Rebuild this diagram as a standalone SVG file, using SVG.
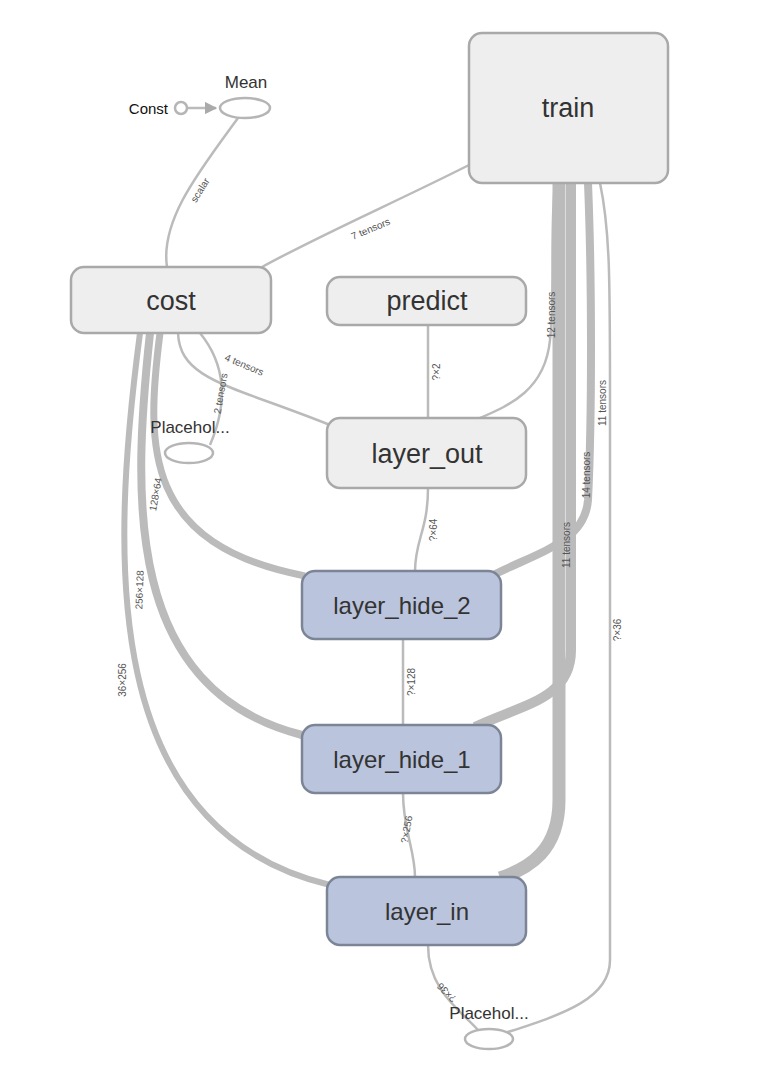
<svg xmlns="http://www.w3.org/2000/svg" width="774" height="1082" viewBox="0 0 774 1082">
<style>
.meta rect{fill:#eeeeee;stroke:#a9a9a9;stroke-width:2.5}
.ns rect{fill:#bac4dc;stroke:#7c8596;stroke-width:2.5}
.big{font-family:"Liberation Sans",Arial,sans-serif;font-size:27px;fill:#333;text-anchor:middle}
.mid{font-family:"Liberation Sans",Arial,sans-serif;font-size:24px;fill:#333;text-anchor:middle}
.sm{font-family:"Liberation Sans",Arial,sans-serif;font-size:17px;fill:#333}
.lbl{font-family:"Liberation Sans",Arial,sans-serif;font-size:10px;fill:#555;text-anchor:middle}
.e{fill:none;stroke:#bbbbbb;stroke-width:2.5}
.op{fill:#fff;stroke:#b5b5b5;stroke-width:2.5}
</style>
<defs><marker id="ar" viewBox="0 0 10 10" refX="9" refY="5" markerWidth="5" markerHeight="5" orient="auto"><path d="M0,0L10,5L0,10z" fill="#aaa"/></marker></defs>
<rect width="774" height="1082" fill="#fff"/>
<g id="connectors">
<path class="e" d="M187,108 L216,108" stroke="#aaa" marker-end="url(#ar)"/>
<path class="e" d="M238,118 C200,170 160,220 167,267"/>
<path class="e" d="M469,165 C400,200 320,235 262,267"/>
<path class="e" d="M428,325 L428,418"/>
<path class="e" d="M428,488 C428,530 415,540 415,571"/>
<path class="e" d="M403,639 L403,725"/>
<path class="e" d="M403,793 C403,830 415,850 415,877"/>
<path class="e" d="M428,945 C428,990 460,1010 478,1030"/>
<path class="e" d="M600,183 C610,230 610,280 610,400 L610,960 C610,1000 560,1015 505,1033"/>
<path class="e" d="M555,183 C550,230 555,300 550,340 C545,390 510,405 480,418"/>
<path class="e" d="M178,333 C180,380 230,385 330,425"/>
<path class="e" d="M200,333 C230,370 225,410 210,445"/>
<path class="e" style="stroke-width:7" d="M160,333 C145,450 145,545 305,576"/>
<path class="e" style="stroke-width:8" d="M150,333 C132,500 125,690 302,735"/>
<path class="e" style="stroke-width:6" d="M140,333 C110,560 100,830 330,885"/>
<path class="e" style="stroke-width:8" d="M588,183 C592,280 592,420 588,500 C585,540 545,550 495,574"/>
<path class="e" style="stroke-width:10" d="M571,183 L571,650 C571,700 520,705 475,727"/>
<path class="e" style="stroke-width:13" d="M559,183 L559,800 C559,850 530,868 500,878"/>
<text class="lbl" transform="translate(203,192) rotate(-58)">scalar</text>
<text class="lbl" transform="translate(372,232) rotate(-23)">7 tensors</text>
<text class="lbl" transform="translate(440,372) rotate(-90)">?×2</text>
<text class="lbl" transform="translate(437,530) rotate(-90)">?×64</text>
<text class="lbl" transform="translate(415,682) rotate(-90)">?×128</text>
<text class="lbl" transform="translate(410,830) rotate(-80)">?×256</text>
<text class="lbl" transform="translate(449,990) rotate(-135)">?×36</text>
<text class="lbl" transform="translate(621,630) rotate(-90)">?×36</text>
<text class="lbl" transform="translate(555,315) rotate(-90)">12 tensors</text>
<text class="lbl" transform="translate(606,403) rotate(-90)">11 tensors</text>
<text class="lbl" transform="translate(590,475) rotate(-90)">14 tensors</text>
<text class="lbl" transform="translate(570,545) rotate(-90)">11 tensors</text>
<text class="lbl" transform="translate(243,368) rotate(23)">4 tensors</text>
<text class="lbl" transform="translate(224,394) rotate(-80)">2 tensors</text>
<text class="lbl" transform="translate(159,495) rotate(-80)">128×64</text>
<text class="lbl" transform="translate(143,590) rotate(-88)">256×128</text>
<text class="lbl" transform="translate(126,680) rotate(-90)">36×256</text>
</g>
<g id="train" class="meta"><rect x="469" y="33" width="199" height="150" rx="13"/><text class="big" x="568" y="117">train</text></g>
<g id="cost" class="meta"><rect x="71" y="267" width="200" height="66" rx="13"/><text class="big" x="171" y="310">cost</text></g>
<g id="predict" class="meta"><rect x="327" y="277" width="199" height="48" rx="13"/><text class="big" x="427" y="310">predict</text></g>
<g id="layer_out" class="meta"><rect x="327" y="418" width="199" height="70" rx="13"/><text class="big" x="427" y="463">layer_out</text></g>
<g id="layer_hide_2" class="ns"><rect x="302" y="571" width="199" height="68" rx="13"/><text class="mid" x="402" y="614">layer_hide_2</text></g>
<g id="layer_hide_1" class="ns"><rect x="302" y="725" width="199" height="68" rx="13"/><text class="mid" x="402" y="768">layer_hide_1</text></g>
<g id="layer_in" class="ns"><rect x="327" y="877" width="199" height="68" rx="13"/><text class="mid" x="427" y="920">layer_in</text></g>
<g id="Mean"><ellipse class="op" cx="245" cy="108" rx="25" ry="10"/><text class="sm" x="246" y="88" text-anchor="middle">Mean</text></g>
<g id="Const"><circle class="op" cx="181" cy="108" r="6"/><text class="sm" x="168" y="114" text-anchor="end" style="font-size:15px;fill:#111">Const</text></g>
<g id="Placeholder1"><ellipse class="op" cx="189" cy="453" rx="24" ry="10"/><text class="sm" x="190" y="433" text-anchor="middle">Placehol...</text></g>
<g id="Placeholder2"><ellipse class="op" cx="489" cy="1039" rx="24" ry="10"/><text class="sm" x="489" y="1019" text-anchor="middle">Placehol...</text></g>
</svg>
